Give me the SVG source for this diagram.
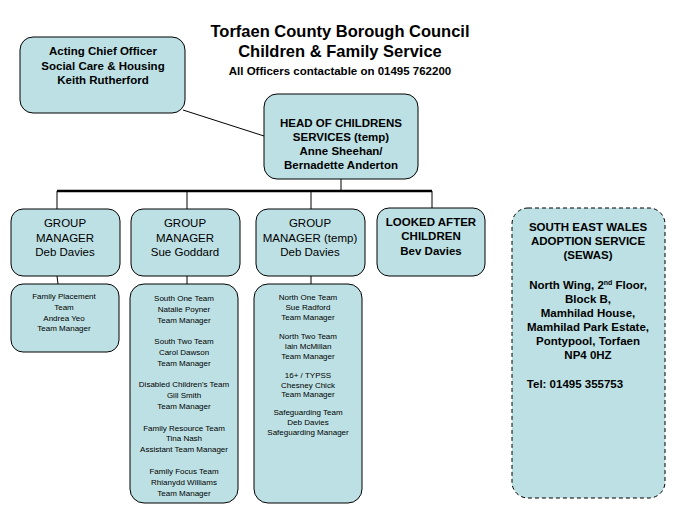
<svg xmlns="http://www.w3.org/2000/svg" width="680" height="510" viewBox="0 0 680 510">
<style>
.b{fill:#bde0e4;stroke:#000;stroke-width:1}
.d{fill:#bde0e4;stroke:#000;stroke-width:1;stroke-dasharray:4,3}
text{font-family:"Liberation Sans",Arial,sans-serif;text-anchor:middle;fill:#000}
.h{font-size:11.5px;font-weight:bold}
.m{font-size:11.5px}
.s{font-size:8px}
.t{font-size:16.5px;font-weight:bold}
.c{stroke:#000;stroke-width:1;fill:none}
</style>
<rect width="680" height="510" fill="#fff"/>
<g id="title">
<text class="t" x="340" y="37">Torfaen County Borough Council</text>
<text class="t" x="340" y="57">Children &amp; Family Service</text>
<text class="h" x="340" y="75" font-size="11">All Officers contactable  on 01495 762200</text>
</g>
<g id="connectors">
<line class="c" x1="183" y1="110" x2="264" y2="136"/>
<line class="c" x1="341" y1="179" x2="341" y2="191"/>
<line x1="57" y1="191" x2="432" y2="191" stroke="#000" stroke-width="2.5"/>
<line class="c" x1="57" y1="191" x2="57" y2="209"/>
<line class="c" x1="187" y1="191" x2="187" y2="209"/>
<line class="c" x1="311" y1="191" x2="311" y2="209"/>
<line class="c" x1="432" y1="191" x2="432" y2="209"/>
<line class="c" x1="57" y1="276" x2="58" y2="284"/>
<line class="c" x1="187" y1="276" x2="187" y2="284"/>
<line class="c" x1="311" y1="276" x2="311" y2="284"/>
</g>
<g id="acting">
<rect class="b" x="20" y="37" width="165" height="76" rx="13"/>
<text class="h" x="103" y="55">Acting Chief Officer</text>
<text class="h" x="103" y="70">Social Care &amp; Housing</text>
<text class="h" x="103" y="84">Keith Rutherford</text>
</g>
<g id="head">
<rect class="b" x="264" y="94" width="154" height="85" rx="13"/>
<text class="h" x="341" y="127">HEAD OF CHILDRENS</text>
<text class="h" x="341" y="141">SERVICES (temp)</text>
<text class="h" x="341" y="155">Anne Sheehan/</text>
<text class="h" x="341" y="169">Bernadette Anderton</text>
</g>
<g id="gm1">
<rect class="b" x="11" y="209" width="109" height="67" rx="12"/>
<text class="m" x="65" y="227">GROUP</text>
<text class="m" x="65" y="242">MANAGER</text>
<text class="m" x="65" y="256">Deb Davies</text>
</g>
<g id="gm2">
<rect class="b" x="131" y="209" width="109" height="67" rx="12"/>
<text class="m" x="185" y="227">GROUP</text>
<text class="m" x="185" y="242">MANAGER</text>
<text class="m" x="185" y="256">Sue Goddard</text>
</g>
<g id="gm3">
<rect class="b" x="256" y="209" width="109" height="67" rx="12"/>
<text class="m" x="310" y="227">GROUP</text>
<text class="m" x="310" y="242">MANAGER (temp)</text>
<text class="m" x="310" y="256">Deb Davies</text>
</g>
<g id="lac">
<rect class="b" x="377" y="208" width="108" height="68" rx="12"/>
<text class="h" x="431" y="226">LOOKED AFTER</text>
<text class="h" x="431" y="240">CHILDREN</text>
<text class="h" x="431" y="255">Bev Davies</text>
</g>
<g id="sewas">
<rect class="d" x="512" y="208" width="153" height="290" rx="16"/>
<text class="h" x="588" y="231">SOUTH EAST WALES</text>
<text class="h" x="588" y="245">ADOPTION SERVICE</text>
<text class="h" x="588" y="259">(SEWAS)</text>
<text class="h" x="588" y="289">North Wing, 2<tspan font-size="7" dy="-4">nd</tspan><tspan dy="4"> Floor,</tspan></text>
<text class="h" x="588" y="303">Block B,</text>
<text class="h" x="588" y="317">Mamhilad House,</text>
<text class="h" x="588" y="331">Mamhilad Park Estate,</text>
<text class="h" x="588" y="345">Pontypool, Torfaen</text>
<text class="h" x="588" y="359">NP4 0HZ</text>
<text class="h" x="575" y="388">Tel:  01495 355753</text>
</g>
<g id="teams1">
<rect class="b" x="11" y="284" width="108" height="68" rx="12"/>
<text class="s" x="64" y="299">Family Placement</text>
<text class="s" x="64" y="310">Team</text>
<text class="s" x="64" y="321">Andrea Yeo</text>
<text class="s" x="64" y="331">Team Manager</text>
</g>
<g id="teams2">
<rect class="b" x="130" y="284" width="108" height="219" rx="14"/>
<text class="s" x="184" y="301">South One Team</text>
<text class="s" x="184" y="312">Natalie Poyner</text>
<text class="s" x="184" y="323">Team Manager</text>
<text class="s" x="184" y="344">South Two Team</text>
<text class="s" x="184" y="355">Carol Dawson</text>
<text class="s" x="184" y="366">Team Manager</text>
<text class="s" x="184" y="387">Disabled Children's Team</text>
<text class="s" x="184" y="398">Gill Smith</text>
<text class="s" x="184" y="409">Team Manager</text>
<text class="s" x="184" y="431">Family Resource Team</text>
<text class="s" x="184" y="441">Tina Nash</text>
<text class="s" x="184" y="452">Assistant Team Manager</text>
<text class="s" x="184" y="474">Family Focus Team</text>
<text class="s" x="184" y="485">Rhianydd Williams</text>
<text class="s" x="184" y="496">Team Manager</text>
</g>
<g id="teams3">
<rect class="b" x="254" y="284" width="108" height="219" rx="14"/>
<text class="s" x="308" y="300">North One Team</text>
<text class="s" x="308" y="310">Sue Radford</text>
<text class="s" x="308" y="320">Team Manager</text>
<text class="s" x="308" y="339">North Two Team</text>
<text class="s" x="308" y="349">Iain McMillan</text>
<text class="s" x="308" y="359">Team Manager</text>
<text class="s" x="308" y="378">16+ / TYPSS</text>
<text class="s" x="308" y="388">Chesney Chick</text>
<text class="s" x="308" y="397">Team Manager</text>
<text class="s" x="308" y="415">Safeguarding Team</text>
<text class="s" x="308" y="425">Deb Davies</text>
<text class="s" x="308" y="435">Safeguarding Manager</text>
</g>
</svg>
